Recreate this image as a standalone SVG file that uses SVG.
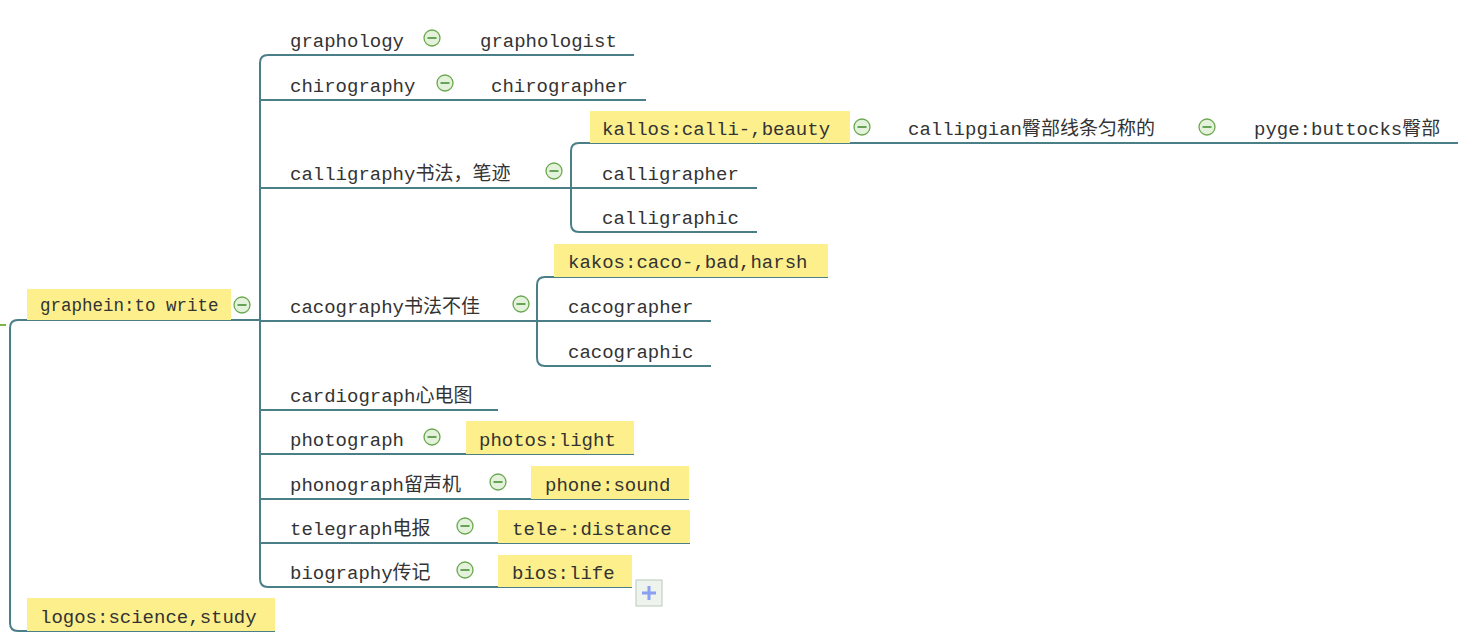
<svg xmlns="http://www.w3.org/2000/svg" width="1458" height="639" viewBox="0 0 1458 639">
<defs>
<style>
.l{fill:none;stroke:#4b7f88;stroke-width:2}
.t{font-family:"Liberation Mono","Noto Sans CJK SC",monospace;font-size:19px;fill:#333}
.s{font-size:17.5px}
.b{fill:#fdf08c}
</style>
<g id="minus"><circle cx="0" cy="0" r="8" fill="#e4f2dc" stroke="#6aa84f" stroke-width="1.3"/><line x1="-4.5" y1="0" x2="4.5" y2="0" stroke="#3d8a2c" stroke-width="1.5"/></g>
</defs>
<rect width="1458" height="639" fill="#fff"/>
<g id="connectors">
<path class="l" d="M0,325 H6" style="stroke:#7ab648"/>
<path class="l" d="M27,320 H18 Q10,320 10,328 V623 Q10,631 18,631 H275"/>
<path class="l" d="M27,320 H260"/>
<path class="l" d="M634,55 H268 Q260,55 260,63 V579 Q260,587 268,587 H632"/>
<path class="l" d="M260,100 H646"/>
<path class="l" d="M260,188 H571"/>
<path class="l" d="M260,321 H537"/>
<path class="l" d="M260,410 H498"/>
<path class="l" d="M260,454 H634"/>
<path class="l" d="M260,499 H689"/>
<path class="l" d="M260,543 H690"/>
<path class="l" d="M1458,143 H579 Q571,143 571,151 V224 Q571,232 579,232 H757"/>
<path class="l" d="M571,188 H757"/>
<path class="l" d="M828,277 H545 Q537,277 537,285 V358 Q537,366 545,366 H711"/>
<path class="l" d="M537,321 H711"/>
</g>
<g id="n-root"><rect class="b" x="27" y="289" width="204" height="31"/><text class="t s" x="40" y="311">graphein:to write</text><use href="#minus" x="242" y="305"/></g>
<g id="n-graphology"><text class="t" x="290" y="47">graphology</text><use href="#minus" x="432" y="38"/><text class="t" x="480" y="47">graphologist</text></g>
<g id="n-chirography"><text class="t" x="290" y="92">chirography</text><use href="#minus" x="445" y="83"/><text class="t" x="491" y="92">chirographer</text></g>
<g id="n-calligraphy"><text class="t" x="290" y="180">calligraphy书法，笔迹</text><use href="#minus" x="554" y="171"/></g>
<g id="n-kallos"><rect class="b" x="590" y="111" width="260" height="32"/><text class="t" x="602" y="135">kallos:calli-,beauty</text><use href="#minus" x="862" y="127"/><text class="t" x="908" y="135">callipgian臀部线条匀称的</text><use href="#minus" x="1207" y="127"/><text class="t" x="1254" y="135">pyge:buttocks臀部</text></g>
<g id="n-calligrapher"><text class="t" x="602" y="180">calligrapher</text></g>
<g id="n-calligraphic"><text class="t" x="602" y="224">calligraphic</text></g>
<g id="n-cacography"><text class="t" x="290" y="313">cacography书法不佳</text><use href="#minus" x="521" y="304"/></g>
<g id="n-kakos"><rect class="b" x="554" y="244" width="274" height="33"/><text class="t" x="568" y="268">kakos:caco-,bad,harsh</text></g>
<g id="n-cacographer"><text class="t" x="568" y="313">cacographer</text></g>
<g id="n-cacographic"><text class="t" x="568" y="358">cacographic</text></g>
<g id="n-cardiograph"><text class="t" x="290" y="402">cardiograph心电图</text></g>
<g id="n-photograph"><text class="t" x="290" y="446">photograph</text><use href="#minus" x="432" y="437"/><rect class="b" x="466" y="421" width="168" height="33"/><text class="t" x="479" y="446">photos:light</text></g>
<g id="n-phonograph"><text class="t" x="290" y="491">phonograph留声机</text><use href="#minus" x="498" y="482"/><rect class="b" x="531" y="466" width="158" height="33"/><text class="t" x="545" y="491">phone:sound</text></g>
<g id="n-telegraph"><text class="t" x="290" y="535">telegraph电报</text><use href="#minus" x="465" y="526"/><rect class="b" x="498" y="510" width="192" height="33"/><text class="t" x="512" y="535">tele-:distance</text></g>
<g id="n-biography"><text class="t" x="290" y="579">biography传记</text><use href="#minus" x="465" y="570"/><rect class="b" x="498" y="555" width="134" height="32"/><text class="t" x="512" y="579">bios:life</text>
<rect x="636" y="580" width="26" height="26" fill="#eef3ee" stroke="#b8cbb8"/><path d="M642,593 H656 M649,586 V600" stroke="#8aa0f0" stroke-width="3"/></g>
<g id="n-logos"><rect class="b" x="27" y="598" width="248" height="33"/><text class="t" x="40" y="623">logos:science,study</text></g>
</svg>
